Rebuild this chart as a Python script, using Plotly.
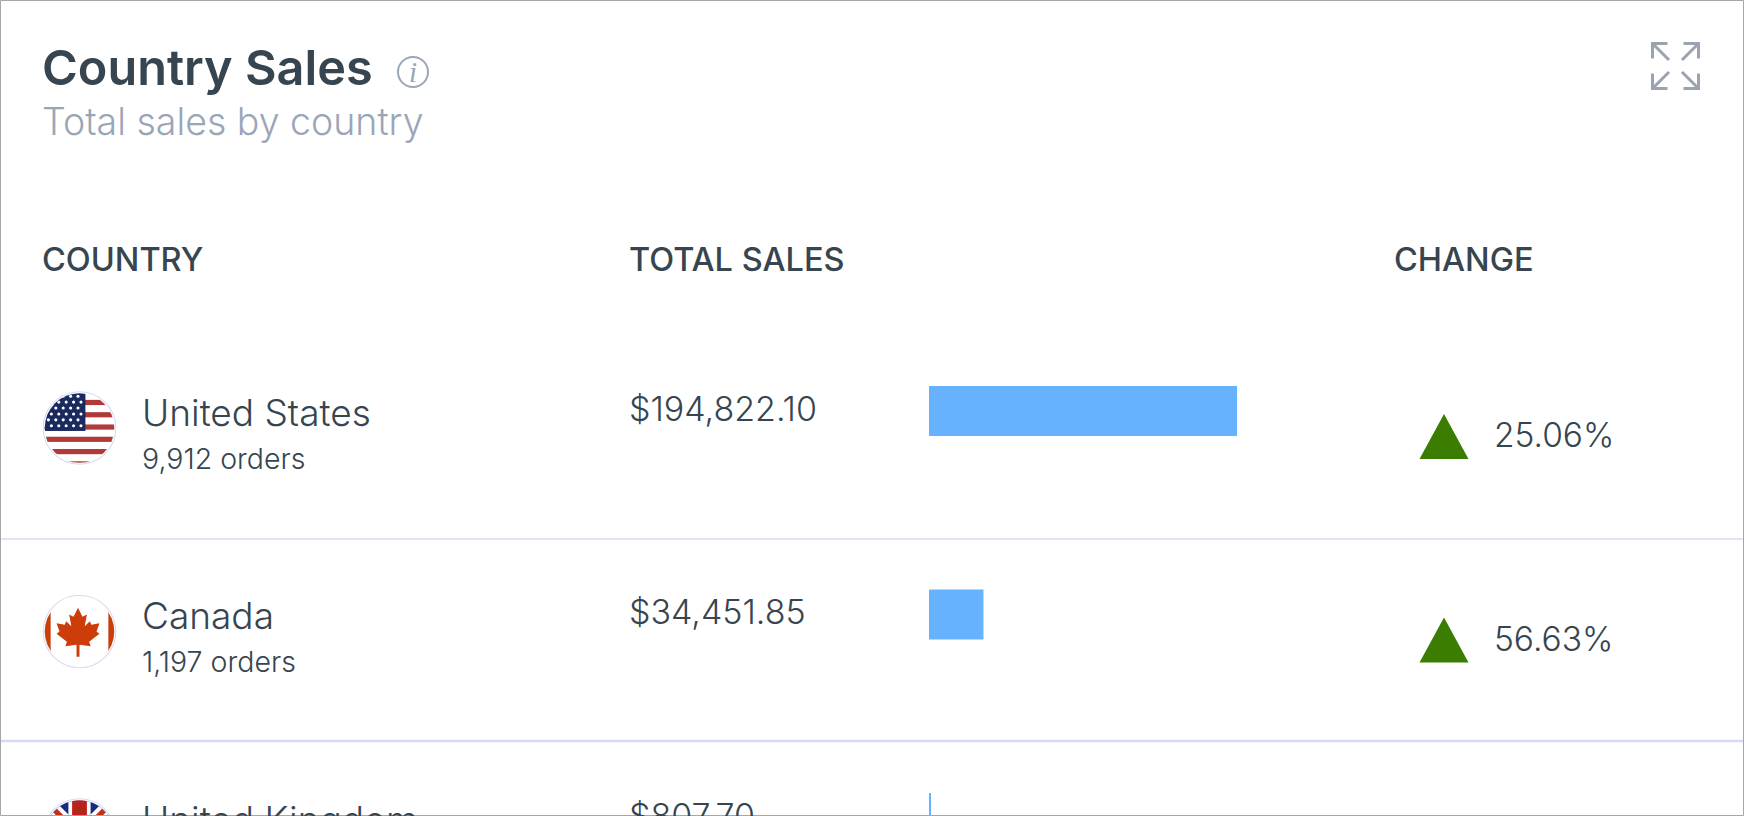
import base64
import plotly.graph_objects as go

W, H = 1744, 816

countries = ["United States", "Canada", "United Kingdom"]
orders = ["9,912 orders", "1,197 orders", ""]
total_sales = [194822.10, 34451.85, 807.70]
sales_labels = ["$194,822.10", "$34,451.85", "$807.70"]
change_labels = ["25.06%", "56.63%", ""]
headers = ["COUNTRY", "TOTAL SALES", "CHANGE"]

DARK = "#36454f"
GREY = "#9aa5b8"
BAR = "#66b2ff"
GREEN = "#3a7d00"
LINE = "#d5dcf5"
FONT = "Inter"

ROW_H = 203.5
BAR_X0 = 929
BAR_MAX_PX = 308
ROW0_BAR_Y = 411


def px(x):
    return x / W


def py(y):
    return 1 - y / H


def svg_uri(body):
    svg = ('<svg xmlns="http://www.w3.org/2000/svg" viewBox="0 0 100 100">'
           '<defs><clipPath id="c"><circle cx="50" cy="50" r="47"/></clipPath></defs>'
           '<circle cx="50" cy="50" r="49" fill="#fff" stroke="#d5dcf5" stroke-width="1.5"/>'
           '<g clip-path="url(#c)">' + body + '</g></svg>')
    return "data:image/svg+xml;base64," + base64.b64encode(svg.encode()).decode()


# flags
us = ""
for i in range(6):
    us += f'<rect x="0" y="{12 + i * 16.6}" width="100" height="7" fill="#b03a3a"/>'
us += '<rect x="0" y="0" width="58" height="54" fill="#1a2a5e"/>'
for r in range(6):
    for c in range(5):
        us += f'<circle cx="{8 + c * 10 + (r % 2) * 4}" cy="{7 + r * 8}" r="2.1" fill="#fff"/>'
canada = ('<rect x="0" y="0" width="11" height="100" fill="#cc3d0a"/>'
          '<rect x="89" y="0" width="11" height="100" fill="#cc3d0a"/>'
          '<path fill="#cc3d0a" d="M48 18 L54 30 L60 27 L57 43 L64 36 L66 41 L77 39 L73 50 L77 53 L63 64 '
          'L65 70 L50 68 L50 84 L46 84 L46 68 L31 70 L33 64 L19 53 L23 50 L19 39 L30 41 L32 36 L39 43 L36 27 L42 30 Z"/>')
uk = ('<rect x="0" y="0" width="100" height="100" fill="#1a2a7e"/>'
      '<path d="M0 0 L100 100 M100 0 L0 100" stroke="#fff" stroke-width="18"/>'
      '<path d="M0 0 L100 100 M100 0 L0 100" stroke="#c0301c" stroke-width="7"/>'
      '<path d="M50 0 V100 M0 50 H100" stroke="#fff" stroke-width="30"/>'
      '<path d="M50 0 V100 M0 50 H100" stroke="#b8241c" stroke-width="20"/>')
flags = [us, canada, uk]

annotations = []
shapes = []
images = []


def text(x, y, s, size, color=DARK, weight=400, family=FONT):
    annotations.append(dict(
        x=px(x), y=py(y), xref="paper", yref="paper", text=s, showarrow=False,
        xanchor="left", yanchor="middle", borderpad=0,
        font=dict(family=family, size=size, color=color, weight=weight),
    ))


text(41, 67, "Country Sales", 48.6, weight=600)
text(41, 121, "Total sales by country", 37.5, color=GREY, weight=300)

# info icon
shapes.append(dict(type="circle", xref="paper", yref="paper", x0=px(398), x1=px(428),
                   y0=py(57), y1=py(87), line=dict(color=GREY, width=2)))
annotations.append(dict(x=px(413), y=py(72), xref="paper", yref="paper", text="<i>i</i>",
                        xanchor="center", yanchor="middle", showarrow=False,
                        font=dict(family="Liberation Serif", size=29, color=GREY)))

# expand icon
for cx, cy, tx, ty in [(1652.5, 43.5, 1669, 60), (1698.5, 43.5, 1682, 60), (1652.5, 88.5, 1669, 72), (1698.5, 88.5, 1682, 72)]:
    hx = cx + (15 if cx < 1675 else -15)
    vy = cy + (15 if cy < 65 else -15)
    path = (f"M{px(hx)} {py(cy)} L{px(cx)} {py(cy)} L{px(cx)} {py(vy)} "
            f"M{px(cx)} {py(cy)} L{px(tx)} {py(ty)}")
    shapes.append(dict(type="path", xref="paper", yref="paper", path=path,
                       line=dict(color="#9aa3af", width=3)))

header_x = [41, 628, 1393]
for hx, h in zip(header_x, headers):
    text(hx, 259, h, 32.5, weight=500)

for i, name in enumerate(countries):
    dy = i * ROW_H
    text(141, 412 + dy, name, 37, weight=300)
    if orders[i]:
        text(141, 458 + dy, orders[i], 28.5, weight=300)
    text(628, 408 + dy, sales_labels[i], 34, weight=300)
    images.append(dict(source=svg_uri(flags[i]), xref="paper", yref="paper", x=px(42.5), y=py(391 + dy),
                       sizex=74 / W, sizey=74 / H, xanchor="left", yanchor="top", layer="above"))
    if change_labels[i]:
        text(1493, 435 + dy, change_labels[i], 33.5, weight=300)
        # up triangle
        tri = (f"M{px(1419.5)} {py(459 + dy)} L{px(1468.5)} {py(459 + dy)} "
               f"L{px(1444)} {py(414 + dy)} Z")
        shapes.append(dict(type="path", xref="paper", yref="paper", path=tri,
                           fillcolor=GREEN, line=dict(width=0)))

# row dividers
for y, w in [(539, 1.5), (741, 2.5)]:
    shapes.append(dict(type="line", xref="paper", yref="paper", x0=0, x1=1, y0=py(y), y1=py(y),
                       line=dict(color=LINE, width=w)))

# frame
shapes.append(dict(type="rect", xref="paper", yref="paper", x0=px(0.5), x1=px(W - 0.5),
                   y0=py(0.5), y1=py(H - 0.5), line=dict(color="#a6a6a6", width=1)))

k = max(total_sales) / BAR_MAX_PX
bars = go.Bar(x=total_sales, y=countries, orientation="h", width=50 / ROW_H,
              marker=dict(color=BAR, line=dict(width=0)), showlegend=False)

fig = go.Figure(bars)
fig.update_layout(
    width=W, height=H, margin=dict(l=0, r=0, t=0, b=0, pad=0),
    paper_bgcolor="white", plot_bgcolor="white",
    xaxis=dict(range=[-BAR_X0 * k, (W - BAR_X0) * k], visible=False, fixedrange=True),
    yaxis=dict(type="category", categoryorder="array", categoryarray=countries,
               range=[(H - ROW0_BAR_Y) / ROW_H, -ROW0_BAR_Y / ROW_H], visible=False, fixedrange=True),
    annotations=annotations, shapes=shapes, images=images,
)
fig.write_html("out.html", config=dict(displayModeBar=False),
               post_script="document.body.style.margin='0';document.body.style.overflow='hidden';")
